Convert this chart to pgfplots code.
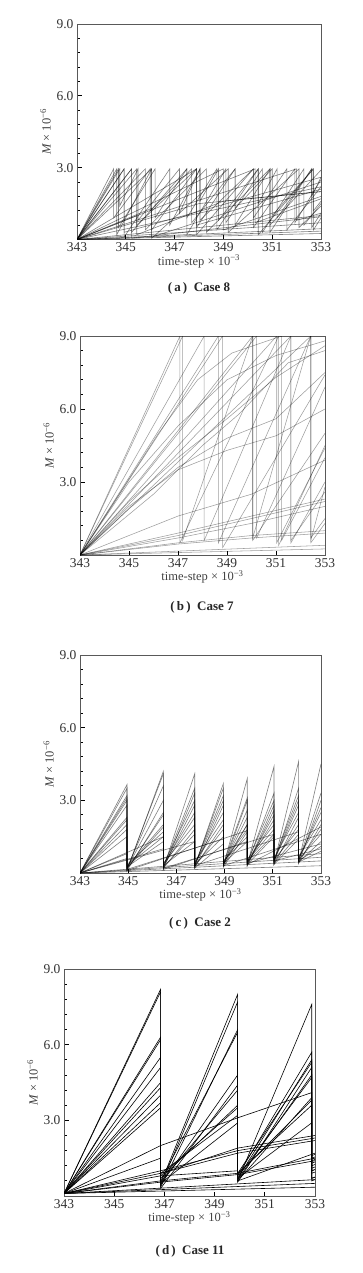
\documentclass[border=0pt]{standalone}
\usepackage{fontspec}
\setmainfont{Liberation Serif}
\usepackage{pgfplots}
\pgfplotsset{compat=1.18}
\pgfplotsset{
  panel/.style={
    scale only axis,
    xmin=343, xmax=353, ymin=0, ymax=9,
    xtick={343,345,347,349,351,353},
    ytick={3,6,9}, yticklabels={3.0,6.0,9.0},
    minor ytick={0.6,1.2,1.8,2.4,3.6,4.2,4.8,5.4,6.6,7.2,7.8,8.4},
    tick align=inside,
    xtick pos=lower, ytick pos=left,
    major tick length=4.5pt, minor tick length=3pt,
    every tick/.style={black, line width=0.9pt},
    axis line style={gray!70!black, line width=0.6pt},
    tick label style={font=\fontsize{13.5}{14}\selectfont, text=black!80},
    /pgf/number format/assume math mode=true,
    xlabel={time-step × 10\textsuperscript{−3}},
    ylabel={{\itshape M} × 10\textsuperscript{−6}},
    label style={font=\fontsize{12.5}{14}\selectfont, text=black!75},
    xlabel style={yshift=4pt},
    ylabel style={yshift=-1pt},
    clip=true,
  },
  gl/.style={no markers, draw=black, opacity=0.38, line width=0.55pt},
  gd/.style={no markers, draw=black, opacity=0.5, line width=0.6pt},
  bl/.style={no markers, draw=black, line width=0.6pt},
}
\begin{document}
\begin{tikzpicture}
\path[use as bounding box] (0,0) rectangle (363pt,-1273pt);
% ---------------- (a) Case 8
\begin{axis}[panel, at={(77pt,-239.5pt)}, anchor=south west, width=244pt, height=215.5pt]
\addplot[gd] coordinates {(343,0)(344.63,2.95)(344.63,0.2)(346.06,2.95)(346.06,0.4)(347.9,2.95)(347.9,0.5)(349.48,2.95)(349.48,0.6)(350.91,2.95)(350.91,0.3)(352.62,2.95)(352.62,0.5)(353,1.1)};
\addplot[gd] coordinates {(343,0)(344.93,2.95)(344.93,0.1)(346.8,2.95)(346.8,0.6)(348.04,2.95)(348.04,0.8)(350.23,2.95)(350.23,0.5)(351.93,2.95)(351.93,0.7)(353,2.5)};
\addplot[gd] coordinates {(343,0)(345.24,2.95)(345.24,0.3)(347.5,2.95)(347.5,0.9)(348.73,2.95)(348.73,0.4)(350.43,2.95)(350.43,0.2)(352.69,2.95)(352.69,0.4)(353,0.9)};
\addplot[gd] coordinates {(343,0)(345.45,2.95)(345.45,0.6)(347.9,2.95)(347.9,0.2)(350.23,2.95)(350.23,0.9)(351.6,2.95)(351.6,0.4)(353,2.2)};
\addplot[gd] coordinates {(343,0)(346.06,2.95)(346.06,0.05)(349.2,2.95)(349.2,0.3)(352.1,2.95)(352.1,0.5)(353,1.4)};
\addplot[gd] coordinates {(343,0)(344.75,2.95)(344.75,1.4)(345.5,2.95)(345.5,0.8)(347.2,2.95)(347.2,1.1)(348.04,2.95)(348.04,1.6)(348.8,2.95)(348.8,0.8)(350.43,2.95)(350.43,1.5)(351.2,2.95)(351.2,0.9)(352.62,2.95)(352.62,1.8)(353,2.6)};
\addplot[gd] coordinates {(343,0)(345.8,2.95)(345.8,0.4)(348.3,2.95)(348.3,0.3)(350.91,2.95)(350.91,0.6)(353,2.9)};
\addplot[gd] coordinates {(343,0)(344.5,2.95)(344.5,0.9)(346.0,2.95)(346.0,1.2)(347.7,2.95)(347.7,0.7)(349.48,2.95)(349.48,1.3)(351.0,2.95)(351.0,1.0)(352.69,2.95)(352.69,1.2)(353,1.6)};
\addplot[gd] coordinates {(343,0)(344.7,2.95)(344.7,0.5)(346.2,2.95)(346.2,0.9)(347.5,2.95)(347.5,0.2)(349.1,2.95)(349.1,0.7)(350.6,2.95)(350.6,0.3)(352.3,2.95)(352.3,0.6)(353,1.5)};
\addplot[gd] coordinates {(343,0)(344.93,2.95)(344.93,0.3)(353,2.6)};
\addplot[gd] coordinates {(343,0)(345.24,2.95)(345.24,0.05)(353,0.95)};
\addplot[gd] coordinates {(343,0)(347.9,2.95)(347.9,0.6)(353,2.1)};
\addplot[gd] coordinates {(343,0)(349.0,2.95)(349.0,0.4)(353,1.8)};
\addplot[gd] coordinates {(343,0)(350.3,2.95)(350.3,0.7)(353,1.7)};
\addplot[gd] coordinates {(343,0)(352.0,2.95)(352.0,0.8)(353,1.1)};
\addplot[gd] coordinates {(343,0)(346.06,1.3)(346.06,0.1)(353,2.4)};
\addplot[gd] coordinates {(343,0)(345.45,1.0)(345.45,0.2)(349.0,1.6)(353,2.0)};
\addplot[gd] coordinates {(343,0)(348,1.5)(353,2.0)};
\addplot[gd] coordinates {(343,0)(353,2.2)};
\addplot[gd] coordinates {(343,0)(353,1.0)};
\addplot[gd] coordinates {(343,0)(353,0.7)};
\addplot[gd] coordinates {(343,0)(353,0.45)};
\addplot[gd] coordinates {(343,0)(353,0.35)};
\addplot[gd] coordinates {(343,0)(353,0.25)};
\end{axis}
\node[font=\bfseries\fontsize{13}{14}\selectfont, text=black!85] at (199pt,-288pt) {(\,a\,)~~Case 8};
% ---------------- (b) Case 7
\begin{axis}[panel, at={(80pt,-555pt)}, anchor=south west, width=245pt, height=219pt]
\addplot[gl] coordinates {(343,0)(347.08,9)(347.08,0.5)(351.11,9)(351.11,0.4)(353,4.5)};
\addplot[gl] coordinates {(343,0)(347.19,9)(347.19,0.6)(350.05,9)(350.05,0.7)(352.42,9)(352.42,0.6)(353,2.8)};
\addplot[gl] coordinates {(343,0)(348.07,9)(348.07,0.6)(351.61,9)(351.61,0.5)(353,3.0)};
\addplot[gl] coordinates {(343,0)(348.65,9)(348.65,0.5)(352.42,9)(352.42,0.7)(353,1.5)};
\addplot[gl] coordinates {(343,0)(348.82,9)(348.82,0.3)(353,7.4)};
\addplot[gl] coordinates {(343,0)(350.21,9)(350.21,0.7)(353,6.9)};
\addplot[gl] coordinates {(343,0)(351.03,9)(351.03,0.5)(353,4.4)};
\addplot[gl] coordinates {(343,0)(350.05,9)(350.05,0.6)(353,5.0)};
\addplot[gl] coordinates {(343,0)(351.61,9)(351.61,0.6)(353,2.6)};
\addplot[gl] coordinates {(343,0)(352.42,9)(352.42,0.5)(353,1.3)};
\addplot[gl] coordinates {(343,0)(346.2,5.0)(347.8,7.2)(349.2,8.3)(351.23,9)(351.23,0.6)(353,4.0)};
\addplot[gl] coordinates {(343,0)(345,3.0)(347,5.3)(349,7.2)(351,8.2)(353,8.8)};
\addplot[gl] coordinates {(343,0)(345,2.2)(347,4.0)(349,5.6)(351,7.3)(353,8.6)};
\addplot[gl] coordinates {(343,0)(346,2.5)(348,4.5)(349.5,5.8)(351.5,7.9)(353,8.4)};
\addplot[gl] coordinates {(343,0)(345,1.9)(347,3.6)(349,4.8)(351,5.6)(353,7.5)};
\addplot[gl] coordinates {(343,0)(345,2.0)(347,3.5)(349,4.3)(351,4.9)(353,6.0)};
\addplot[gl] coordinates {(343,0)(347,1.6)(350,2.5)(353,3.9)};
\addplot[gl] coordinates {(343,0)(347,0.9)(350,1.6)(353,2.3)};
\addplot[gl] coordinates {(343,0)(347,0.8)(350,1.5)(353,2.2)};
\addplot[gl] coordinates {(343,0)(347,0.7)(350,1.3)(353,2.0)};
\addplot[gl] coordinates {(343,0)(347,0.5)(350,0.8)(353,1.0)};
\addplot[gl] coordinates {(343,0)(347,0.45)(350,0.7)(353,0.9)};
\addplot[gl] coordinates {(343,0)(353,0.4)};
\addplot[gl] coordinates {(343,0)(353,0.25)};
\end{axis}
\node[font=\bfseries\fontsize{13}{14}\selectfont, text=black!85] at (202pt,-607pt) {(\,b\,)~~Case 7};
% ---------------- (c) Case 2
\begin{axis}[panel, at={(80pt,-873pt)}, anchor=south west, width=241pt, height=218pt]
\addplot[gd] coordinates {(343,0)(344.95,3.65)(344.95,0.10)(346.46,4.2)(346.46,0.20)(347.76,4.1)(347.76,0.25)(348.95,3.7)(348.95,0.30)(349.94,3.9)(349.94,0.35)(351.05,4.4)(351.05,0.40)(352.07,4.6)(352.07,0.45)(353,4.5)};
\addplot[gd] coordinates {(343,0)(344.95,3.5)(344.95,0.15)(346.46,4.1)(346.46,0.25)(347.76,3.5)(347.76,0.30)(348.95,3.5)(348.95,0.40)(349.94,3.1)(349.94,0.40)(351.05,3.3)(351.05,0.45)(352.07,3.5)(352.07,0.50)(353,3.3)};
\addplot[gd] coordinates {(343,0)(344.95,3.2)(344.95,0.20)(346.46,3.0)(346.46,0.15)(347.76,3.3)(347.76,0.35)(348.95,3.2)(348.95,0.35)(349.94,2.3)(349.94,0.30)(351.05,2.8)(351.05,0.50)(352.07,2.8)(352.07,0.55)(353,2.7)};
\addplot[gd] coordinates {(343,0)(344.95,3.1)(344.95,0.10)(346.46,2.5)(346.46,0.30)(347.76,2.3)(347.76,0.20)(348.95,2.8)(348.95,0.45)(349.94,1.8)(349.94,0.40)(351.05,2.2)(351.05,0.35)(352.07,2.3)(352.07,0.60)(353,2.5)};
\addplot[gd] coordinates {(343,0)(344.95,2.8)(344.95,0.25)(346.46,2.0)(346.46,0.20)(347.76,1.8)(347.76,0.40)(348.95,2.5)(348.95,0.30)(349.94,3.0)(349.94,0.50)(351.05,1.8)(351.05,0.55)(352.07,1.8)(352.07,0.40)(353,2.0)};
\addplot[gd] coordinates {(343,0)(344.95,2.3)(344.95,0.20)(346.46,1.9)(346.46,0.35)(347.76,2.5)(347.76,0.25)(348.95,2.0)(348.95,0.50)(349.94,1.5)(349.94,0.45)(351.05,3.0)(351.05,0.40)(352.07,1.6)(352.07,0.50)(353,1.8)};
\addplot[gd] coordinates {(343,0)(344.95,2.2)(344.95,0.30)(346.46,1.5)(346.46,0.25)(347.76,1.6)(347.76,0.30)(348.95,1.8)(348.95,0.40)(349.94,2.0)(349.94,0.35)(351.05,1.5)(351.05,0.60)(352.07,2.5)(352.07,0.45)(353,1.3)};
\addplot[gd] coordinates {(343,0)(344.95,2.0)(344.95,0.15)(346.46,2.4)(346.46,0.40)(347.76,2.0)(347.76,0.35)(348.95,1.5)(348.95,0.25)(349.94,1.7)(349.94,0.55)(351.05,2.0)(351.05,0.45)(352.07,2.0)(352.07,0.65)(353,2.2)};
\addplot[gd] coordinates {(343,0)(344.95,1.8)(344.95,0.35)(346.46,1.7)(346.46,0.30)(347.76,1.3)(347.76,0.45)(348.95,2.2)(348.95,0.35)(349.94,2.6)(349.94,0.40)(351.05,2.4)(351.05,0.50)(352.07,3.0)(352.07,0.55)(353,1.6)};
\addplot[gd] coordinates {(343,0)(344.95,3.0)(344.95,0.20)(346.46,3.6)(346.46,0.25)(347.76,2.8)(347.76,0.30)(348.95,3.0)(348.95,0.30)(349.94,2.0)(349.94,0.45)(351.05,1.6)(351.05,0.35)(352.07,1.4)(352.07,0.40)(353,3.0)};
\addplot[gd] coordinates {(343,0)(344.95,1.5)(344.95,0.25)(346.46,1.3)(346.46,0.35)(347.76,3.0)(347.76,0.20)(348.95,1.2)(348.95,0.40)(349.94,1.3)(349.94,0.30)(351.05,2.6)(351.05,0.55)(352.07,3.2)(352.07,0.50)(353,1.1)};
\addplot[gd] coordinates {(343,0)(344.95,0.6)(344.95,0.1)(349.94,1.75)(349.94,0.4)(353,1.2)};
\addplot[gd] coordinates {(343,0)(346.46,1.0)(346.46,0.2)(351.05,1.6)(351.05,0.5)(353,1.0)};
\addplot[gd] coordinates {(343,0)(344.95,0.8)(344.95,0.15)(348.95,1.4)(348.95,0.3)(353,1.6)};
\addplot[gd] coordinates {(343,0)(346.46,1.5)(346.46,0.15)(349.94,1.3)(349.94,0.35)(353,1.9)};
\addplot[gd] coordinates {(343,0)(347.76,1.3)(347.76,0.3)(352.07,1.7)(352.07,0.45)(353,0.9)};
\addplot[gd] coordinates {(343,0)(353,0.8)};
\addplot[gd] coordinates {(343,0)(353,0.65)};
\addplot[gd] coordinates {(343,0)(353,0.5)};
\addplot[gd] coordinates {(343,0)(353,0.3)};
\end{axis}
\node[font=\bfseries\fontsize{13}{14}\selectfont, text=black!85] at (200pt,-923pt) {(\,c\,)~~Case 2};
% ---------------- (d) Case 11
\begin{axis}[panel, at={(64pt,-1196pt)}, anchor=south west, width=251pt, height=227pt]
\addplot[bl] coordinates {(343,0.1)(346.85,8.2)(346.85,0.5)(349.92,8.0)(349.92,0.6)(352.87,7.6)(352.87,0.7)(353,0.75)};
\addplot[bl] coordinates {(343,0.1)(346.85,8.1)(346.85,0.4)(349.92,7.7)(349.92,0.8)(352.87,5.7)(352.87,0.6)(353,0.65)};
\addplot[bl] coordinates {(343,0.1)(346.85,6.3)(346.85,0.35)(349.92,6.6)(349.92,0.7)(352.87,5.4)(352.87,1.2)(353,1.25)};
\addplot[bl] coordinates {(343,0.1)(346.85,6.2)(346.85,0.6)(349.92,6.5)(349.92,0.9)(352.87,5.3)(352.87,1.4)(353,1.45)};
\addplot[bl] coordinates {(343,0.1)(346.85,5.5)(346.85,0.45)(349.92,4.8)(349.92,0.55)(352.87,5.1)(352.87,1.6)(353,1.65)};
\addplot[bl] coordinates {(343,0.1)(346.85,5.1)(346.85,0.3)(349.92,4.4)(349.92,0.65)(352.87,4.8)(352.87,0.9)(353,0.95)};
\addplot[bl] coordinates {(343,0.1)(346.85,4.5)(346.85,0.55)(349.92,4.2)(349.92,0.75)(352.87,4.7)(352.87,1.1)(353,1.15)};
\addplot[bl] coordinates {(343,0.1)(346.85,4.3)(346.85,0.7)(349.92,3.6)(349.92,0.6)(352.87,3.9)(352.87,1.3)(353,1.35)};
\addplot[bl] coordinates {(343,0.1)(346.85,4.0)(346.85,0.8)(349.92,3.5)(349.92,0.85)(352.87,3.8)(352.87,0.7)(353,0.75)};
\addplot[bl] coordinates {(343,0.1)(346.85,3.7)(346.85,0.9)(349.92,3.2)(349.92,0.7)(352.87,2.9)(352.87,1.5)(353,1.55)};
\addplot[bl] coordinates {(343,0.1)(346.85,3.5)(346.85,0.5)(349.92,2.9)(349.92,0.9)(352.87,3.6)(352.87,1.0)(353,1.05)};
\addplot[bl] coordinates {(343,0.1)(346.85,2.0)(349.92,3.1)(352.87,4.1)(352.87,1.0)(353,1.05)};
\addplot[bl] coordinates {(343,0.1)(346.85,1.5)(346.85,0.9)(349.92,1.9)(353,2.4)};
\addplot[bl] coordinates {(343,0.1)(346.85,1.0)(349.92,1.8)(353,2.3)};
\addplot[bl] coordinates {(343,0.1)(346.85,0.9)(349.92,1.7)(353,2.2)};
\addplot[bl] coordinates {(343,0.1)(346.85,0.8)(349.92,1.0)(349.92,0.6)(353,1.7)};
\addplot[bl] coordinates {(343,0.1)(346.85,0.6)(349.92,0.9)(353,1.5)};
\addplot[bl] coordinates {(343,0.1)(346.85,0.55)(349.92,0.85)(353,1.4)};
\addplot[bl] coordinates {(343,0.1)(353,0.65)};
\addplot[bl] coordinates {(343,0.1)(353,0.5)};
\addplot[bl] coordinates {(343,0.1)(353,0.35)};
\end{axis}
\node[font=\bfseries\fontsize{13}{14}\selectfont, text=black!85] at (190pt,-1251pt) {(\,d\,)~~Case 11};
\end{tikzpicture}
\end{document}
